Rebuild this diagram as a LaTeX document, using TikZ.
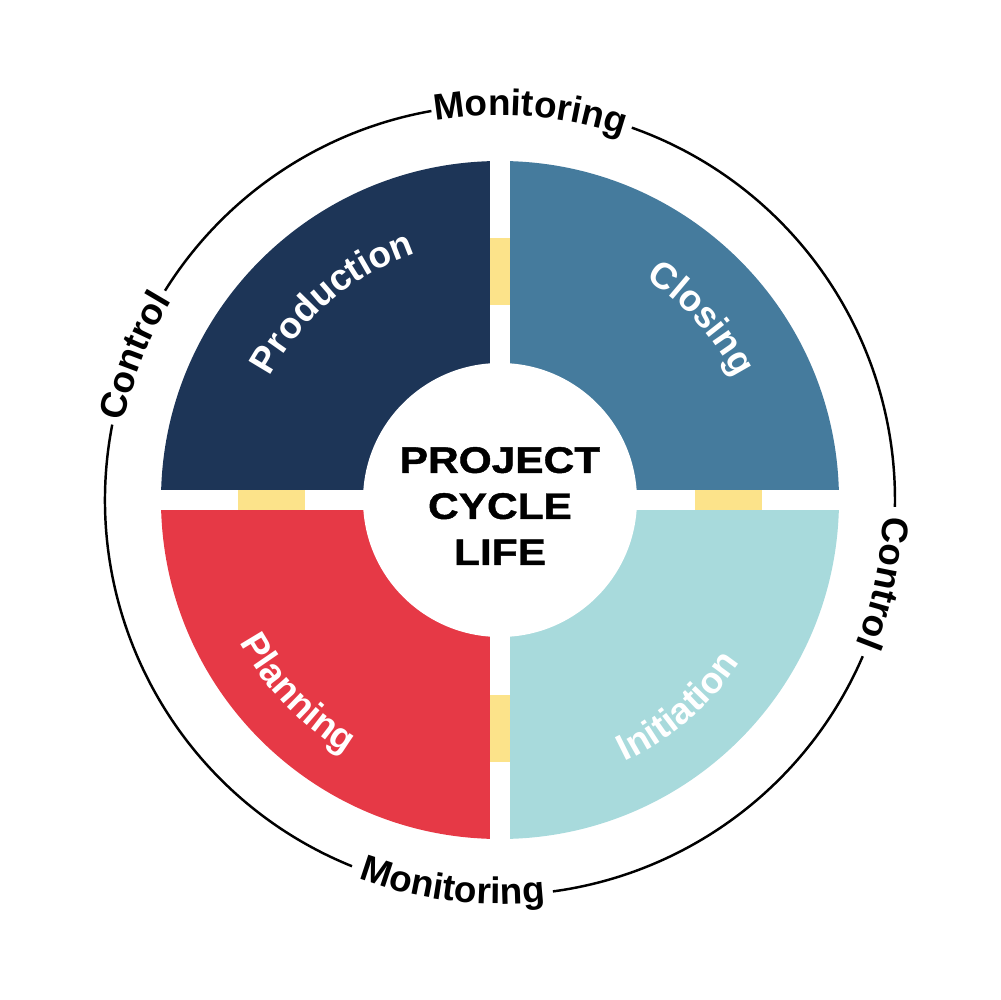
\documentclass[tikz,border=0pt]{standalone}
\usepackage{fontspec}
\usepackage{xcolor}
\usetikzlibrary{decorations.text}
\newfontfamily\arialfont{Liberation Sans}
\newfontfamily\widefont[FakeStretch=1.15, FakeBold=1.2]{Liberation Sans}
\newcommand{\labelfont}{\arialfont\bfseries\fontsize{10.5}{12}\selectfont}
\definecolor{ProdNavy}{HTML}{1D3557}
\definecolor{CloseBlue}{HTML}{457B9D}
\definecolor{PlanRed}{HTML}{E63946}
\definecolor{InitTeal}{HTML}{A8DADC}
\definecolor{LinkYellow}{HTML}{FCE38A}
\tikzset{
  ring/.style={draw=black, line width=0.7pt},
  linkbar/.style={fill=LinkYellow},
  hub/.style={fill=white},
  ringtext/.style={decorate, decoration={text along path, text align=center, text color=black, text={|\labelfont|#1}}},
  quadtext/.style={decorate, decoration={text along path, text align=center, text color=white, text={|\labelfont|#1}}},
  hubtitle/.style={font=\widefont\bfseries\fontsize{10.5}{13.1}\selectfont, align=center, inner sep=0pt}
}
\begin{document}
\begin{tikzpicture}[x=0.1mm, y=0.1mm]
  \useasboundingbox (-500,-500) rectangle (500,500);
  \coordinate (O) at (0,0);
  \begin{scope}
    \clip (O) circle (339);
    \fill[ProdNavy] (-10,10) rectangle (-345,345);
    \fill[CloseBlue] (10,10) rectangle (345,345);
    \fill[PlanRed] (-10,-10) rectangle (-345,-345);
    \fill[InitTeal] (10,-10) rectangle (345,-345);
  \end{scope}
  \foreach \a in {0,90,180,270}
    \fill[linkbar, rotate=\a] (-10,195) rectangle (10,262);
  \fill[hub] (O) circle (137);
  \node[hubtitle] (life) at (0,-6) {PROJECT\\CYCLE\\LIFE};
  \foreach \s/\e in {100/148, 169/248, 277.7/336.7, -1/70.5}
    \draw[ring] (\s:395) arc (\s:\e:395);
  \path[ringtext={Monitoring}] (115.5:385) arc (115.5:55.5:385);
  \path[ringtext={Monitoring}] (233:404) arc (233:293:404);
  \path[ringtext={Control}] (188.5:384) arc (188.5:128.5:384);
  \path[ringtext={Control}] (17.8:384) arc (17.8:-42.2:384);
  \path[quadtext={Production}] (170.3:261) arc (170.3:90.3:261);
  \path[quadtext={Closing}] (82:265) arc (82:2:265);
  \path[quadtext={Planning}] (183.7:297) arc (183.7:263.7:297);
  \path[quadtext={Initiation}] (270.7:290) arc (270.7:350.7:290);
\end{tikzpicture}
\end{document}
